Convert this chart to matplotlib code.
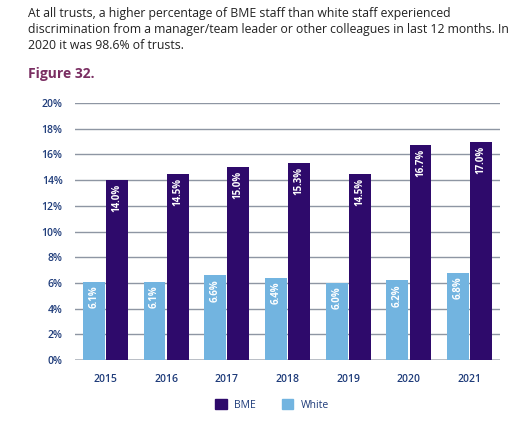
import numpy as np
import matplotlib
matplotlib.use('Agg')
import matplotlib.pyplot as plt
from matplotlib.patches import Patch

plt.rcParams['font.family'] = ['Open Sans', 'DejaVu Sans']

years = ['2015', '2016', '2017', '2018', '2019', '2020', '2021']
bme = [14.0, 14.5, 15.0, 15.3, 14.5, 16.7, 17.0]
white = [6.1, 6.1, 6.6, 6.4, 6.0, 6.2, 6.8]
yticks = [0, 2, 4, 6, 8, 10, 12, 14, 16, 18, 20]

BME_COL = '#2E0A6B'
WHITE_COL = '#72B4E0'
AXIS_TXT = '#1F3C7A'

W, H = 523, 433
fig = plt.figure(figsize=(W / 100, H / 100), dpi=100)

# intro text and figure title
fig.text(28 / W, 1 - 7 / H,
         'At all trusts, a higher percentage of BME staff than white staff experienced\n'
         'discrimination from a manager/team leader or other colleagues in last 12 months. In\n'
         '2020 it was 98.6% of trusts.',
         ha='left', va='top', fontsize=8.8, color='#222222', linespacing=1.3)
fig.text(28 / W, 1 - 74 / H, 'Figure 32.', ha='left', va='center',
         fontsize=10, fontweight='bold', color='#7A2E62')

ax = fig.add_axes([75 / W, 1 - 360 / H, 425 / W, 257 / H])
x = np.arange(len(years))
bw = 0.36
off = 0.19
bw_bars = ax.bar(x - off, white, bw, color=WHITE_COL, zorder=2)
bm_bars = ax.bar(x + off, bme, bw, color=BME_COL, zorder=2)

for b, v in zip(bw_bars, white):
    ax.text(b.get_x() + b.get_width() / 2, v - 0.3, f'{v:.1f}%', rotation=90,
            ha='center', va='top', color='white', fontsize=7, fontweight='bold', zorder=3)
for b, v in zip(bm_bars, bme):
    ax.text(b.get_x() + b.get_width() / 2, v - 0.3, f'{v:.1f}%', rotation=90,
            ha='center', va='top', color='white', fontsize=7, fontweight='bold', zorder=3)

ax.set_xlim(-0.5, len(years) - 0.5)
ax.set_ylim(0, 20)
ax.set_yticks(yticks)
ax.set_yticklabels([f'{t}%' for t in yticks])
ax.set_xticks(x)
ax.set_xticklabels(years)
ax.yaxis.grid(True, color='#8E96A3', linewidth=1, zorder=0)
ax.set_axisbelow(True)
for s in ax.spines.values():
    s.set_visible(False)
ax.axhline(0, color='#B5BAC2', linewidth=2, zorder=1)
ax.tick_params(axis='both', length=0, labelsize=7.5, labelcolor=AXIS_TXT)
ax.tick_params(axis='y', pad=9)
ax.tick_params(axis='x', pad=10)
for lab in ax.get_xticklabels() + ax.get_yticklabels():
    lab.set_fontweight('semibold')

handles = [Patch(color=BME_COL, label='BME'), Patch(color=WHITE_COL, label='White')]
fig.legend(handles=handles, loc='center', bbox_to_anchor=(272 / W, 1 - 405 / H),
           ncol=2, frameon=False, fontsize=7.5, handlelength=1.1, handleheight=1.1,
           columnspacing=2.5, handletextpad=0.7, labelcolor=AXIS_TXT)

fig.savefig('out.png', dpi=100)
